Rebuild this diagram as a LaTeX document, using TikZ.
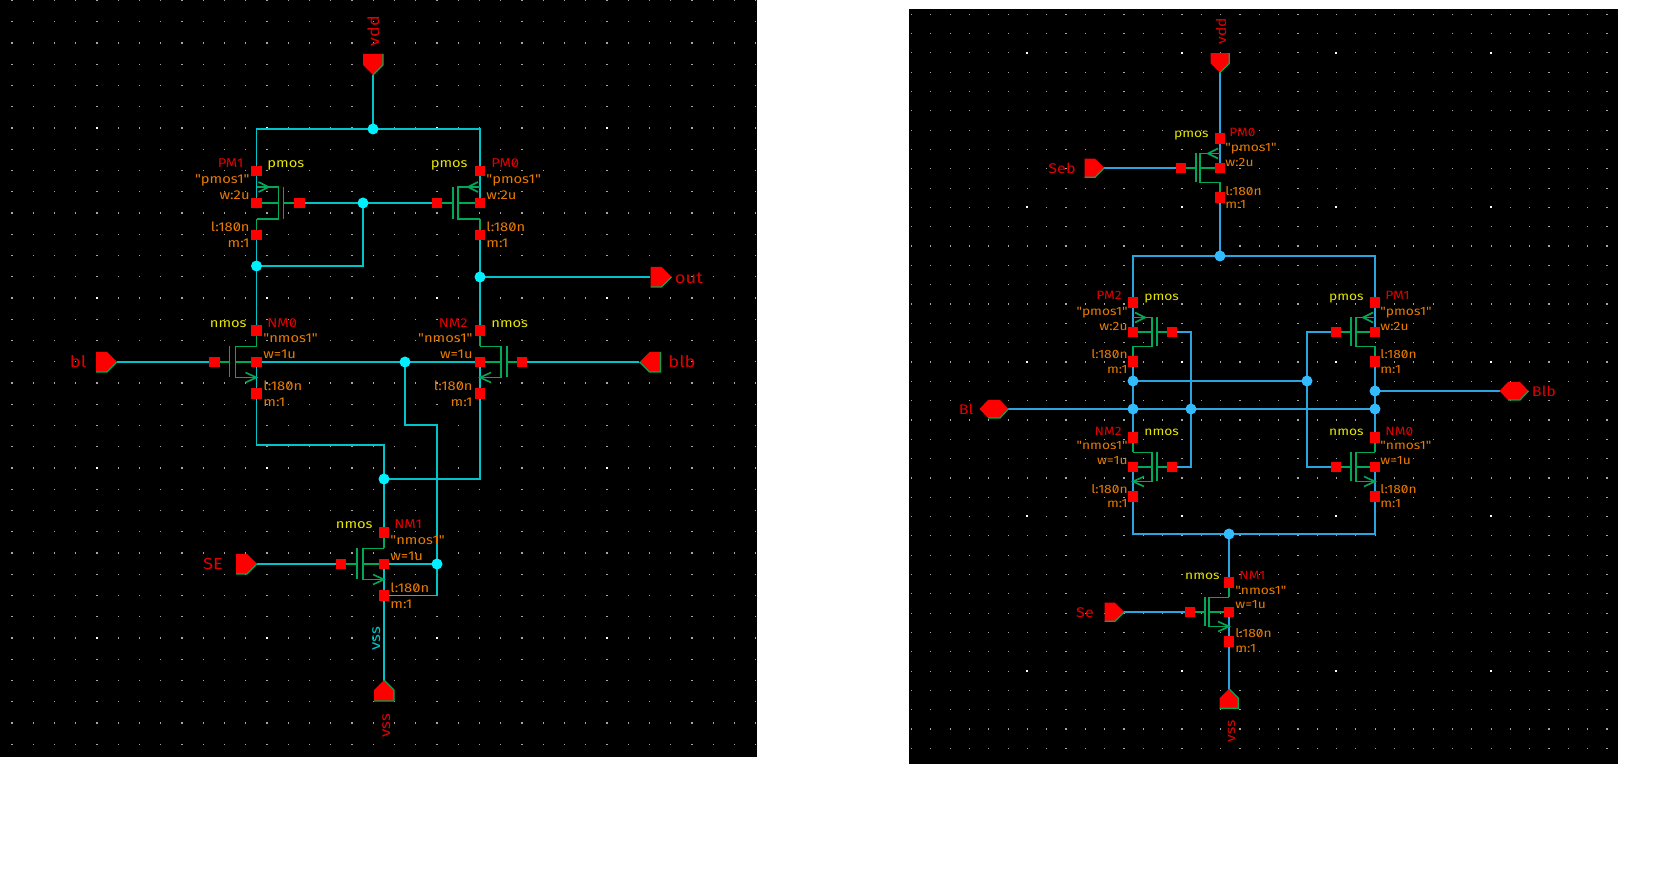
\documentclass[tikz,border=0pt]{standalone}
\usepackage{fontspec}
\newfontfamily\cadfont[RawFeature=+zero,FakeStretch=1.15]{Fira Sans}
\definecolor{lwire}{HTML}{00C4C8}
\definecolor{ljunc}{HTML}{00F0FF}
\definecolor{rwire}{HTML}{2AA5E0}
\definecolor{rjunc}{HTML}{33BBFF}
\definecolor{mosgreen}{HTML}{00A858}
\definecolor{lblorange}{HTML}{E87A00}
\definecolor{lblyellow}{HTML}{E6E600}
\definecolor{lblred}{HTML}{E00000}
\pgfdeclarelayer{panel}
\pgfdeclarelayer{wire}
\pgfsetlayers{panel,wire,main}
\newcounter{lb}
\newcommand{\stubl}{16}
\tikzset{
  pinbox/.style={rectangle,fill=red,minimum size=5.2pt,inner sep=0pt,outer sep=0pt},
  mosline/.style={draw=mosgreen,line width=0.8pt},
  textbase/.style={inner sep=0pt,text height=.75em,text depth=.15em},
  orange/.style={textbase,text=lblorange},
  yellow/.style={textbase,text=lblyellow},
  redl/.style={textbase,text=lblred},
  bigred/.style={textbase,text=lblred,font=\cadfont\fontsize{8}{9}\selectfont},
  smallred/.style={textbase,text=lblred,font=\cadfont\fontsize{7}{8}\selectfont},
  vddl/.style={textbase,rotate=90,text=lblred,font=\cadfont\fontsize{7.8}{9}\selectfont},
  vssl/.style={textbase,rotate=90,text=lblred,font=\cadfont\fontsize{7.3}{9}\selectfont},
  vssn/.style={textbase,rotate=90,text=lwire,font=\cadfont\fontsize{7.3}{9}\selectfont},
  rsupply/.style={textbase,rotate=90,text=lblred,font=\cadfont\fontsize{6.8}{8}\selectfont},
  leftpanel/.style={net/.style={draw=lwire,line width=0.85pt},
     junc/.style={circle,fill=ljunc,minimum size=5.5pt,inner sep=0pt},
     every node/.append style={font=\cadfont\fontsize{6.4}{8}\selectfont}},
  rightpanel/.style={net/.style={draw=rwire,line width=0.85pt},
     junc/.style={circle,fill=rjunc,minimum size=5.5pt,inner sep=0pt},
     every node/.append style={font=\cadfont\fontsize{6}{7.5}\selectfont}},
}
% name, x, y mid, direction of gate, channel, bar, gate pin, half height, type (p or n)
\newcommand{\mosdev}[9]{%
  \begin{scope}[shift={(#2,#3)},xscale=#4]
    \draw[mosline] (0,-#8) -- (#5,-#8) -- (#5,#8) -- (0,#8);
    \draw[mosline] (0,0) -- (#5,0);
    \draw[mosline] (#6,-#8) -- (#6,#8);
    \draw[mosline] (#6,0) -- (#7,0);
    \if#9p
      \draw[mosline] (0,#8) -- (0,#8+\stubl);
      \draw[mosline] (2,-#8-5) -- (12,-#8) -- (2,-#8+5);
      \node[pinbox] (#1-t) at (0,-#8-\stubl) {};
      \node[pinbox] (#1-m) at (0,0) {};
      \node[pinbox] (#1-b) at (0,#8+\stubl) {};
      \begin{pgfonlayer}{wire}\draw[net] (#1-t.center) -- (#1-m.center);\end{pgfonlayer}
    \else
      \draw[mosline] (0,-#8) -- (0,-#8-\stubl);
      \draw[mosline] (11,#8-5) -- (0,#8) -- (11,#8+5);
      \node[pinbox] (#1-t) at (0,-#8-\stubl) {};
      \node[pinbox] (#1-m) at (0,0) {};
      \node[pinbox] (#1-b) at (0,#8+\stubl) {};
      \begin{pgfonlayer}{wire}\draw[net] (#1-m.center) -- (#1-b.center);\end{pgfonlayer}
    \fi
    \node[pinbox] (#1-g) at (#7,0) {};
  \end{scope}%
}
% style, x, y, anchor, text
\newcommand{\lab}[5]{\stepcounter{lb}\node[#1,anchor=#4] (lab\thelb) at (#2,#3) {#5};}
% x, y, transform : pentagon pin
\newcommand{\penta}[3]{%
  \begin{scope}[shift={(#1,#2)},rotate=#3]
    \fill[red] (-10,-10) -- (1,-10) -- (11,0) -- (1,10) -- (-10,10) -- cycle;
    \draw[mosline,line width=0.6pt] (11,0) -- (1,10) -- (-10,10);
  \end{scope}%
}
% same, with a green back edge
\newcommand{\pentb}[3]{%
  \begin{scope}[shift={(#1,#2)},rotate=#3]
    \fill[red] (-10,-10) -- (1,-10) -- (11,0) -- (1,10) -- (-10,10) -- cycle;
    \draw[mosline,line width=0.6pt] (11,0) -- (1,10) -- (-10,10) -- (-10,-10);
  \end{scope}%
}
% x, y : hexagon pin
\newcommand{\hexa}[2]{%
  \begin{scope}[shift={(#1,#2)}]
    \fill[red] (-14.5,0) -- (-6,-9) -- (6,-9) -- (14.5,0) -- (6,9) -- (-6,9) -- cycle;
    \draw[mosline,line width=0.6pt] (14.5,0) -- (6,9) -- (-6,9);
  \end{scope}%
}
\begin{document}
\begin{tikzpicture}[x=0.5pt,y=-0.5pt]
\useasboundingbox (0,0) rectangle (1671,886);
\begin{pgfonlayer}{panel}
  \fill[white] (0,0) rectangle (1671,886);
  \fill[black] (0,0) rectangle (757,757);
  \fill[black] (909,9) rectangle (1618,764);
  \begin{scope}
    \clip (0,0) rectangle (757,757);
    \foreach \i in {-13,...,23}{\foreach \j in {-14,...,22}{
      \fill[gray!70] ({267+\i*21.25-0.6},{298+\j*21.25-0.6}) rectangle ++(1.2,1.2);}}
    \foreach \i in {97,267,437,607}{\foreach \j in {128,298,468,638}{
      \fill[white] (\i-1.3,\j-1.3) rectangle ++(2.7,2.7);}}
  \end{scope}
  \begin{scope}
    \clip (909,9) rectangle (1618,764);
    \foreach \i in {-14,...,23}{\foreach \j in {-18,...,21}{
      \fill[gray!70] ({1182+\i*19.32-0.6},{362+\j*19.32-0.6}) rectangle ++(1.2,1.2);}}
    \foreach \i in {1027,1182,1336,1491}{\foreach \j in {53,207,362,516,671}{
      \fill[white] (\i-1.3,\j-1.3) rectangle ++(2.7,2.7);}}
  \end{scope}
\end{pgfonlayer}

% ---------- left schematic
\begin{scope}[leftpanel]
  \mosdev{lp1}{256.5}{203}{1}{22}{27}{43}{16}{p}
  \mosdev{lp0}{480}{203}{-1}{22}{27}{43}{16}{p}
  \mosdev{ln0}{256.5}{362}{-1}{21}{27}{42}{15.5}{n}
  \mosdev{ln2}{480}{362}{1}{21}{27}{42}{15.5}{n}
  \mosdev{ln1}{384}{564}{-1}{21}{27}{43}{15.5}{n}
  \node[junc] (ljtop) at (373,129) {};
  \node[junc] (ljg) at (363,203) {};
  \node[junc] (ljd) at (256.5,266) {};
  \node[junc] (ljout) at (480,277) {};
  \node[junc] (ljn) at (405,362) {};
  \node[junc] (ljt) at (384,479) {};
  \node[junc] (ljs) at (437,564) {};
  \coordinate (lvdd) at (373,75);
  \coordinate (lvss) at (384,681);
  \coordinate (lbl) at (117,362);
  \coordinate (lblb) at (639,362);
  \coordinate (lse) at (257,564);
  \coordinate (lo) at (650,277);
  \coordinate (lc1) at (437,425);
  \coordinate (lc2) at (384,445);
  \penta{373}{64}{-90,yscale=-1}
  \pentb{384}{691}{90}
  \penta{246}{564}{0}
  \penta{106}{362}{0}
  \pentb{650.5}{362}{180,yscale=-1}
  \penta{660.5}{277}{0}
  \begin{pgfonlayer}{wire}
    \draw[net] (lvdd) -- (ljtop.center);
    \draw[net] (lp1-t.center) |- (ljtop.center) -| (lp0-t.center);
    \draw[net] (lp1-g.center) -- (ljg.center) -- (lp0-g.center);
    \draw[net] (ljg.center) |- (ljd.center);
    \draw[net] (lp1-b.center) -- (ljd.center) -- (ln0-t.center);
    \draw[net] (lp0-b.center) -- (ljout.center) -- (ln2-t.center);
    \draw[net] (ljout.center) -- (lo);
    \draw[net] (ln0-m.center) -- (ljn.center) -- (ln2-m.center);
    \draw[net] (ljn.center) |- (lc1) -- (ljs.center);
    \draw[net] (ln1-m.center) -- (ljs.center);
    \draw[net] (ln1-b.center) -| (ljs.center);
    \draw[net] (ln0-b.center) |- (lc2) -- (ljt.center) -- (ln1-t.center);
    \draw[net] (ljt.center) -| (ln2-b.center);
    \draw[net] (ln1-b.center) -- (lvss);
    \draw[net] (lbl) -- (ln0-g.center);
    \draw[net] (lblb) -- (ln2-g.center);
    \draw[net] (lse) -- (ln1-g.center);
  \end{pgfonlayer}
  \lab{redl}{244}{162}{east}{PM1}
  \lab{yellow}{267}{162}{west}{pmos}
  \lab{orange}{250}{178}{east}{"pmos1"}
  \lab{orange}{250}{194}{east}{w:2u}
  \lab{orange}{250}{226}{east}{l:180n}
  \lab{orange}{250}{242}{east}{m:1}
  \lab{redl}{491}{162}{west}{PM0}
  \lab{yellow}{468}{162}{east}{pmos}
  \lab{orange}{486}{178}{west}{"pmos1"}
  \lab{orange}{486}{194}{west}{w:2u}
  \lab{orange}{486}{226}{west}{l:180n}
  \lab{orange}{486}{242}{west}{m:1}
  \lab{yellow}{247}{322}{east}{nmos}
  \lab{redl}{267}{322}{west}{NM0}
  \lab{orange}{263}{337}{west}{"nmos1"}
  \lab{orange}{263}{353}{west}{w=1u}
  \lab{orange}{263}{385}{west}{l:180n}
  \lab{orange}{263}{401}{west}{m:1}
  \lab{redl}{468}{322}{east}{NM2}
  \lab{yellow}{491}{322}{west}{nmos}
  \lab{orange}{473}{337}{east}{"nmos1"}
  \lab{orange}{473}{353}{east}{w=1u}
  \lab{orange}{473}{385}{east}{l:180n}
  \lab{orange}{473}{401}{east}{m:1}
  \lab{yellow}{373}{523}{east}{nmos}
  \lab{redl}{394}{523}{west}{NM1}
  \lab{orange}{390}{539}{west}{"nmos1"}
  \lab{orange}{390}{555}{west}{w=1u}
  \lab{orange}{390}{587}{west}{l:180n}
  \lab{orange}{390}{603}{west}{m:1}
  \lab{bigred}{213}{564}{center}{SE}
  \lab{bigred}{78}{362}{center}{bl}
  \lab{bigred}{682}{362}{center}{blb}
  \lab{bigred}{689}{278}{center}{out}
  \lab{vddl}{373}{31}{center}{vdd}
  \lab{vssl}{384}{726}{center}{vss}
  \lab{vssn}{374}{639}{center}{vss}
\end{scope}

% ---------- right schematic
\renewcommand{\stubl}{15}
\begin{scope}[rightpanel]
  \mosdev{rp0}{1220}{168}{-1}{20}{24}{39}{14.5}{p}
  \mosdev{rp2}{1133}{332}{1}{19}{24}{39}{14.5}{p}
  \mosdev{rp1}{1375}{332}{-1}{19}{24}{39}{14.5}{p}
  \mosdev{rn2}{1133}{467}{1}{19}{24}{39}{14.5}{n}
  \mosdev{rn0}{1375}{467}{-1}{19}{24}{39}{14.5}{n}
  \mosdev{rn1}{1229}{612}{-1}{20}{24}{39}{14.5}{n}
  \node[junc] (rjtop) at (1220,256) {};
  \node[junc] (rja) at (1133,381) {};
  \node[junc] (rjb) at (1133,409) {};
  \node[junc] (rjc) at (1191,409) {};
  \node[junc] (rjd) at (1307,381) {};
  \node[junc] (rje) at (1375,391) {};
  \node[junc] (rjf) at (1375,409) {};
  \node[junc] (rjg) at (1229,534) {};
  \coordinate (rvdd) at (1220,72);
  \coordinate (rvss) at (1229,690);
  \coordinate (rseb) at (1104,168);
  \coordinate (rse) at (1124,612);
  \coordinate (rbl) at (1008,409);
  \coordinate (rblb) at (1500,391);
  \penta{1220}{62.5}{-90,yscale=-1,scale=0.93}
  \pentb{1229}{699}{90,scale=0.93}
  \penta{1094}{168}{0,scale=0.93}
  \penta{1114}{612}{0,scale=0.93}
  \hexa{994}{409}
  \hexa{1514}{391}
  \begin{pgfonlayer}{wire}
    \draw[net] (rvdd) -- (rp0-t.center);
    \draw[net] (rp0-b.center) -- (rjtop.center);
    \draw[net] (rp2-t.center) |- (rjtop.center) -| (rp1-t.center);
    \draw[net] (rp2-b.center) -- (rja.center) -- (rjb.center) -- (rn2-t.center);
    \draw[net] (rp1-b.center) -- (rje.center) -- (rjf.center) -- (rn0-t.center);
    \draw[net] (rje.center) -- (rblb);
    \draw[net] (rbl) -- (rjb.center) -- (rjc.center) -- (rjf.center);
    \draw[net] (rja.center) -- (rjd.center);
    \draw[net] (rp2-g.center) -| (rjc.center);
    \draw[net] (rn2-g.center) -| (rjc.center);
    \draw[net] (rp1-g.center) -| (rjd.center);
    \draw[net] (rn0-g.center) -| (rjd.center);
    \draw[net] (rn2-b.center) |- (rjg.center) -| (rn0-b.center);
    \draw[net] (rjg.center) -- (rn1-t.center);
    \draw[net] (rn1-b.center) -- (rvss);
    \draw[net] (rseb) -- (rp0-g.center);
    \draw[net] (rse) -- (rn1-g.center);
  \end{pgfonlayer}
  \lab{yellow}{1209}{132}{east}{pmos}
  \lab{redl}{1229}{131}{west}{PM0}
  \lab{orange}{1225}{146}{west}{"pmos1"}
  \lab{orange}{1225}{161}{west}{w:2u}
  \lab{orange}{1225}{190}{west}{l:180n}
  \lab{orange}{1225}{203}{west}{m:1}
  \lab{redl}{1122}{294}{east}{PM2}
  \lab{yellow}{1144}{295}{west}{pmos}
  \lab{orange}{1128}{310}{east}{"pmos1"}
  \lab{orange}{1128}{325}{east}{w:2u}
  \lab{orange}{1128}{353}{east}{l:180n}
  \lab{orange}{1128}{368}{east}{m:1}
  \lab{yellow}{1364}{295}{east}{pmos}
  \lab{redl}{1385}{294}{west}{PM1}
  \lab{orange}{1380}{310}{west}{"pmos1"}
  \lab{orange}{1380}{325}{west}{w:2u}
  \lab{orange}{1380}{353}{west}{l:180n}
  \lab{orange}{1380}{368}{west}{m:1}
  \lab{redl}{1122}{430}{east}{NM2}
  \lab{yellow}{1144}{430}{west}{nmos}
  \lab{orange}{1128}{444}{east}{"nmos1"}
  \lab{orange}{1128}{459}{east}{w=1u}
  \lab{orange}{1128}{488}{east}{l:180n}
  \lab{orange}{1128}{502}{east}{m:1}
  \lab{yellow}{1364}{430}{east}{nmos}
  \lab{redl}{1385}{430}{west}{NM0}
  \lab{orange}{1380}{444}{west}{"nmos1"}
  \lab{orange}{1380}{459}{west}{w=1u}
  \lab{orange}{1380}{488}{west}{l:180n}
  \lab{orange}{1380}{502}{west}{m:1}
  \lab{yellow}{1220}{574}{east}{nmos}
  \lab{redl}{1239}{574}{west}{NM1}
  \lab{orange}{1235}{589}{west}{"nmos1"}
  \lab{orange}{1235}{603}{west}{w=1u}
  \lab{orange}{1235}{632}{west}{l:180n}
  \lab{orange}{1235}{647}{west}{m:1}
  \lab{smallred}{1062}{168}{center}{Seb}
  \lab{smallred}{1085}{612}{center}{Se}
  \lab{smallred}{966}{409}{center}{Bl}
  \lab{smallred}{1544}{391}{center}{Blb}
  \lab{rsupply}{1220}{31}{center}{vdd}
  \lab{rsupply}{1229}{731}{center}{vss}
\end{scope}
\end{tikzpicture}
\end{document}
